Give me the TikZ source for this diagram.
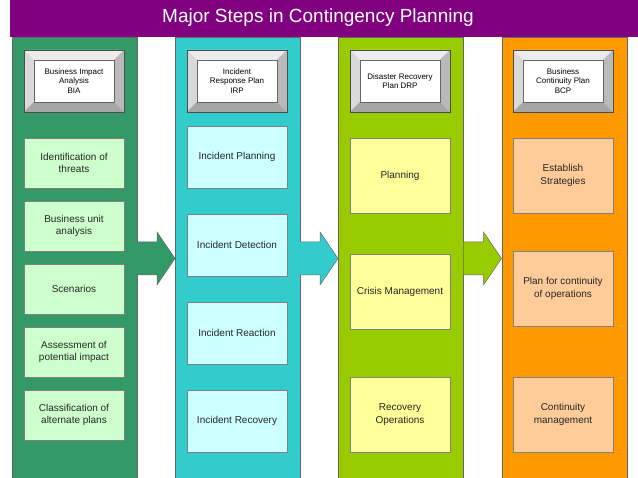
\documentclass[tikz,border=0pt]{standalone}
\usepackage{fontspec}
\setmainfont{Liberation Sans}
\definecolor{hdr}{HTML}{800080}
\definecolor{cg}{HTML}{339966}
\definecolor{cc}{HTML}{33CCCC}
\definecolor{cl}{HTML}{99CC00}
\definecolor{co}{HTML}{FF9900}
\definecolor{fg}{HTML}{CCFFCC}
\definecolor{fc}{HTML}{CCFFFF}
\definecolor{fl}{HTML}{FFFF99}
\definecolor{fo}{HTML}{FFCC99}
\tikzset{
 col/.style={draw=black!60,line width=0.6pt},
 item/.style={draw=black!50,line width=0.5pt,minimum width=100pt,align=center,font=\fontsize{10}{12.5}\selectfont,text=black!85},
 bevel/.style={minimum width=100pt,minimum height=62pt,align=center,font=\fontsize{8}{9.5}\selectfont,draw=black!70,
  path picture={
   \coordinate (sw) at (path picture bounding box.south west);
   \coordinate (ne) at (path picture bounding box.north east);
   \fill[gray!30] (sw) rectangle (ne);
   \fill[gray!15] (sw|-ne) -- (ne) -- ([shift={(-10pt,-10pt)}]ne) -- ([shift={(10pt,-10pt)}]sw|-ne) -- cycle;
   \fill[gray!70] (sw) -- (sw-|ne) -- ([shift={(-10pt,10pt)}]sw-|ne) -- ([shift={(10pt,10pt)}]sw) -- cycle;
   \fill[gray!55] (ne) -- (sw-|ne) -- ([shift={(-10pt,10pt)}]sw-|ne) -- ([shift={(-10pt,-10pt)}]ne) -- cycle;
   \fill[white,draw=black!60] ([shift={(10pt,10pt)}]sw) rectangle ([shift={(-10pt,-10pt)}]ne);
  }},
 barrow/.style={draw=black!60,line width=0.5pt}
}
\newcommand{\blockarrow}[2]{% #1 = start x, #2 = colour
 \draw[barrow,fill=#2] (#1,242) -- (#1+20,242) -- (#1+20,232) -- (#1+38,258.5) -- (#1+20,285) -- (#1+20,275) -- (#1,275);}
\begin{document}
\begin{tikzpicture}[x=1pt,y=-1pt]
\useasboundingbox (0,0) rectangle (638,478);
\fill[white] (0,0) rectangle (638,478);
\fill[hdr] (10,0) rectangle (638,37);
\node[text=white,font=\fontsize{19}{22}\selectfont] (title) at (318,18) {Major Steps in Contingency Planning};
\draw[col,fill=cg] (12,37) rectangle (137,478);
\draw[col,fill=cc] (175,37) rectangle (300,478);
\draw[col,fill=cl] (338,37) rectangle (463,478);
\draw[col,fill=co] (502,37) rectangle (627,478);
\blockarrow{137}{cg}
\blockarrow{300}{cc}
\blockarrow{463.5}{cl}
\node[bevel] (bia) at (74,81) {Business Impact\\Analysis\\BIA};
\node[bevel] (irp) at (237,81) {Incident\\Response Plan\\IRP};
\node[bevel] (drp) at (400,81) {Disaster Recovery\\Plan DRP};
\node[bevel] (bcp) at (563,81) {Business\\Continuity Plan\\BCP};
\tikzset{g/.style={item,fill=fg,minimum height=50pt}, c/.style={item,fill=fc,minimum height=62pt},
 l/.style={item,fill=fl,minimum height=75pt}, o/.style={item,fill=fo,minimum height=75pt}}
\node[g] (g1) at (74,163) {Identification of\\threats};
\node[g] (g2) at (74,226) {Business unit\\analysis};
\node[g] (g3) at (74,289) {Scenarios};
\node[g] (g4) at (74,352) {Assessment of\\potential impact};
\node[g] (g5) at (74,415) {Classification of\\alternate plans};
\node[c] (c1) at (237,157) {Incident Planning};
\node[c] (c2) at (237,245) {Incident Detection};
\node[c] (c3) at (237,333) {Incident Reaction};
\node[c] (c4) at (237,421) {Incident Recovery};
\node[l] (l1) at (400,175.5) {Planning};
\node[l] (l2) at (400,291.5) {Crisis Management};
\node[l] (l3) at (400,414.5) {Recovery\\Operations};
\node[o] (o1) at (563,175.5) {Establish\\Strategies};
\node[o] (o2) at (563,288.5) {Plan for continuity\\of operations};
\node[o] (o3) at (563,414.5) {Continuity\\management};
\end{tikzpicture}
\end{document}
